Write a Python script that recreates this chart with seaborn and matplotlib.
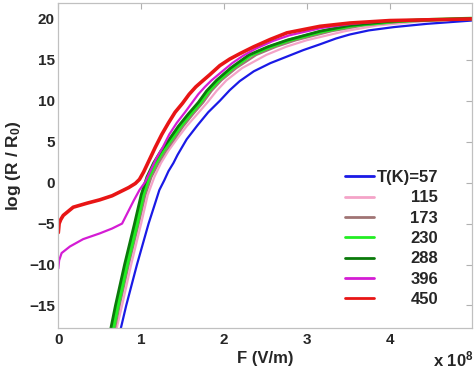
import matplotlib
matplotlib.use("Agg")
import matplotlib.pyplot as plt
import seaborn as sns
import pandas as pd

# Field F in units of 1e8 V/m, log(R/R0)
F_57 = [0.75, 0.82, 0.95, 1.09, 1.16, 1.22, 1.28, 1.33, 1.39, 1.44, 1.55, 1.68, 1.81, 1.95, 2.07, 2.19,
        2.36, 2.56, 2.76, 2.96, 3.16, 3.35, 3.52, 3.75, 4.05, 4.45, 4.99]
logR_57 = [-18, -15, -10, -5, -2.8, -0.9, 0.3, 1.4, 2.4, 3.4, 5.3, 7.0, 8.6, 10.0, 11.3, 12.4,
           13.6, 14.6, 15.4, 16.2, 16.9, 17.6, 18.1, 18.6, 19.0, 19.4, 19.8]

# the green / brown / pink bundle is read at the same log(R/R0) levels
levels = [-18, -15, -10, -5, -1.5, 0.7, 2.4, 3.9, 5.3, 6.9, 8.4, 9.8, 11.2, 12.5, 14.0, 15.6,
          16.6, 17.4, 18.5, 19.2, 19.7, 19.9, 20.05]
F_115 = [0.70, 0.77, 0.88, 1.0, 1.08, 1.16, 1.24, 1.33, 1.43, 1.55, 1.68, 1.80, 1.91, 2.03, 2.22, 2.51,
         2.75, 3.0, 3.46, 3.85, 4.38, 4.8, 4.99]
F_173 = [0.68, 0.74, 0.85, 0.97, 1.05, 1.125, 1.21, 1.30, 1.40, 1.51, 1.63, 1.75, 1.85, 1.97, 2.15, 2.39,
         2.63, 2.87, 3.3, 3.68, 4.18, 4.62, 4.99]
F_230 = [0.66, 0.72, 0.83, 0.95, 1.025, 1.095, 1.175, 1.265, 1.365, 1.475, 1.595, 1.715, 1.815, 1.935, 2.105, 2.325,
         2.56, 2.785, 3.2, 3.56, 4.05, 4.5, 4.99]
F_288 = [0.63, 0.69, 0.80, 0.92, 1.0, 1.07, 1.15, 1.24, 1.34, 1.45, 1.57, 1.69, 1.79, 1.91, 2.08, 2.30,
         2.53, 2.76, 3.16, 3.52, 4.0, 4.5, 4.99]

F_396 = [0, 0.01, 0.04, 0.14, 0.3, 0.5, 0.65, 0.77, 0.84, 0.91, 0.98, 1.05, 1.11, 1.18, 1.26, 1.34, 1.43,
         1.53, 1.61, 1.69, 1.77, 1.85, 1.98, 2.10, 2.23, 2.39, 2.59, 2.79, 3.18, 3.54, 4.0, 4.5, 4.99]
logR_396 = [-10.5, -9.5, -8.6, -7.8, -6.9, -6.2, -5.6, -5.0, -3.6, -2.2, -0.9, 0.1, 1.4, 2.9, 4.3, 5.9, 7.3,
            8.6, 9.7, 10.8, 11.7, 12.5, 13.6, 14.6, 15.5, 16.4, 17.3, 18.0, 18.9, 19.4, 19.8, 19.9, 20.0]

F_450 = [0, 0.01, 0.03, 0.06, 0.18, 0.35, 0.5, 0.65, 0.75, 0.85, 0.93, 0.98, 1.03, 1.10, 1.17, 1.25, 1.33,
         1.41, 1.50, 1.58, 1.66, 1.75, 1.83, 1.95, 2.07, 2.2, 2.36, 2.56, 2.76, 3.16, 3.52, 4.0, 4.5, 4.99]
logR_450 = [-6.1, -5.0, -4.5, -4.0, -3.0, -2.5, -2.1, -1.6, -1.1, -0.6, -0.1, 0.4, 1.3, 2.8, 4.3, 5.9, 7.3,
            8.6, 9.7, 10.8, 11.7, 12.5, 13.2, 14.3, 15.1, 15.8, 16.6, 17.5, 18.3, 19.1, 19.5, 19.8, 19.9, 20.0]

labels = ["T(K)=57", "115", "173", "230", "288", "396", "450"]
colors = ["#1a1ae6", "#f4a3c8", "#a07474", "#22ee22", "#0a7a0a", "#d41cd4", "#e81515"]
widths = [1.6, 1.6, 1.6, 2.6, 2.0, 1.6, 2.6]

series = [
    (F_57, logR_57),
    (F_115, levels),
    (F_173, levels),
    (F_230, levels),
    (F_288, levels),
    (F_396, logR_396),
    (F_450, logR_450),
]

sns.set_style("white")
plt.rcParams["font.family"] = ["Liberation Sans", "DejaVu Sans"]
plt.rcParams["font.weight"] = "bold"
plt.rcParams["mathtext.fontset"] = "custom"
plt.rcParams["mathtext.rm"] = "Liberation Sans:bold"
plt.rcParams["mathtext.it"] = "Liberation Sans:bold"
plt.rcParams["mathtext.bf"] = "Liberation Sans:bold"

fig = plt.figure(figsize=(4.74, 3.74), dpi=100)
ax = fig.add_axes([0.123, 0.122, 0.872, 0.869])

for (f, y), lab, c, lw in zip(series, labels, colors, widths):
    df = pd.DataFrame({"F": f, "logR": y})
    sns.lineplot(data=df, x="F", y="logR", sort=False, estimator=None,
                 color=c, linewidth=lw, label=lab, ax=ax)

ax.set_xlim(0, 4.99)
ax.set_ylim(-17.8, 21.9)
ax.set_xticks([0, 1, 2, 3, 4])
ax.set_yticks([-15, -10, -5, 0, 5, 10, 15, 20])
ax.tick_params(direction="in", length=4, width=0.8, color="#b0b0b0",
               top=True, right=True, labelsize=11)
ax.tick_params(axis="x", pad=3.5)
ax.tick_params(axis="y", pad=2.5)
for lab in ax.get_xticklabels() + ax.get_yticklabels():
    lab.set_fontweight("bold")
for s in ax.spines.values():
    s.set_color("#c0c0c0")
    s.set_linewidth(0.9)

ax.set_xlabel("F (V/m)", fontsize=12, fontweight="bold", labelpad=3)
ax.set_ylabel("log (R / R$_0$)", fontsize=12.5, fontweight="bold", labelpad=4)
fig.text(433 / 474, 1 - 366 / 374, "x 10$^8$", fontsize=12, fontweight="bold", va="baseline")

leg = ax.legend(loc="upper left", bbox_to_anchor=(345 / 474, 1 - 170 / 374),
                bbox_transform=fig.transFigure, frameon=False, fontsize=12,
                borderpad=0, borderaxespad=0, handlelength=1.75,
                handletextpad=0.15, labelspacing=0.32)
for h in leg.get_lines():
    h.set_linewidth(2)

# right-align the legend labels
fig.canvas.draw()
renderer = fig.canvas.get_renderer()
widths_txt = [t.get_window_extent(renderer).width for t in leg.get_texts()]
shift = max(widths_txt)
for t, w in zip(leg.get_texts(), widths_txt):
    t.set_position((shift - w, 0))

fig.savefig("out.png", dpi=100)
